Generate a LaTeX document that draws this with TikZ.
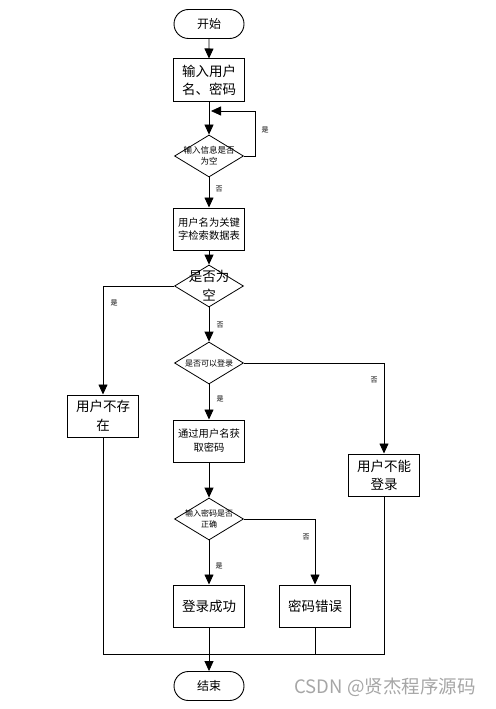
\documentclass[tikz,border=0pt]{standalone}
\usepackage{fontspec}
\setmainfont{Noto Sans CJK SC}
\usetikzlibrary{shapes.geometric,shapes.misc,arrows.meta}

\tikzset{
  term/.style={draw,rounded rectangle,line width=0.9pt,minimum width=70pt,minimum height=29pt,inner sep=0pt,font=\fontsize{12}{14}\selectfont},
  box/.style={draw,line width=1pt,minimum width=71pt,minimum height=42pt,inner sep=0pt,align=center},
  dia/.style={draw,diamond,line width=0.8pt,minimum width=69pt,minimum height=42pt,inner sep=0pt},
  qlab/.style={align=center,inner sep=0pt},
  lab/.style={font=\fontsize{7}{8}\selectfont,inner sep=0pt},
  arr/.style={-{Triangle[length=10pt,width=9pt]},line width=0.8pt}
}

\begin{document}
\begin{tikzpicture}[x=1pt,y=-1pt]

\useasboundingbox (0,0) rectangle (495,709);

% nodes
\node[term] (start) at (209,24) {开始};
\node[box,font=\fontsize{13.5}{18}\selectfont] (input) at (209,80) {输入用户\\名、密码};
\node[dia,label={[qlab,font=\fontsize{8.5}{11}\selectfont]center:输入信息是否\\为空}] (q1) at (209,156) {};
\node[box,font=\fontsize{10.3}{13.5}\selectfont] (search) at (209,229) {用户名为关键\\字检索数据表};
\node[dia,label={[qlab,font=\fontsize{13.5}{19}\selectfont]center:是否为\\空}] (q2) at (209,286) {};
\node[dia,label={[qlab,font=\fontsize{8}{10}\selectfont]center:是否可以登录}] (q3) at (209,363) {};
\node[box,font=\fontsize{13.5}{19}\selectfont] (nouser) at (103,416) {用户不存\\在};
\node[box,font=\fontsize{10.3}{14}\selectfont] (getpw) at (209,441) {通过用户名获\\取密码};
\node[box,font=\fontsize{13.5}{18}\selectfont] (denied) at (384,475) {用户不能\\登录};
\node[dia,label={[qlab,font=\fontsize{8}{10.5}\selectfont]center:输入密码是否\\正确}] (q4) at (209,519) {};
\node[box,font=\fontsize{13.5}{16}\selectfont] (ok) at (209,606) {登录成功};
\node[box,font=\fontsize{13.5}{16}\selectfont] (wrong) at (315,606) {密码错误};
\node[term] (stop) at (209,686) {结束};

\node[font=\fontsize{18.5}{20}\selectfont,text=black!35] (mark) at (385,687) {CSDN @贤杰程序源码};

% connectors
\coordinate (loop) at (211,111);
\coordinate (jl) at (103,654);
\coordinate (jr) at (384,654);

\draw[arr] (start) -- (input);
\draw[arr] (input) -- (q1);
\draw[arr] (q1.east) -- ++(11,0) |- (loop);
\draw[arr] (q1) -- (search);
\draw[arr] (search) -- (q2);
\draw[arr] (q2.west) -| (nouser);
\draw[arr] (q2) -- (q3);
\draw[arr] (q3) -- (getpw);
\draw[arr] (q3.east) -| (denied);
\draw[arr] (getpw) -- (q4);
\draw[arr] (q4) -- (ok);
\draw[arr] (q4.east) -| (wrong);
\draw[line width=0.8pt] (nouser) -- (jl) -- (jr) -- (denied);
\draw[line width=0.8pt] (wrong) -- (wrong |- jl);
\draw[arr] (ok) -- (stop);

% labels
\node[lab] (y1) at (265,130) {是};
\node[lab] (n1) at (219,189) {否};
\node[lab] (y2) at (114,303) {是};
\node[lab] (n2) at (220,325) {否};
\node[lab] (y3) at (220,399) {是};
\node[lab] (n3) at (374,380) {否};
\node[lab] (y4) at (219,566) {是};
\node[lab] (n4) at (306,537) {否};

\end{tikzpicture}
\end{document}
